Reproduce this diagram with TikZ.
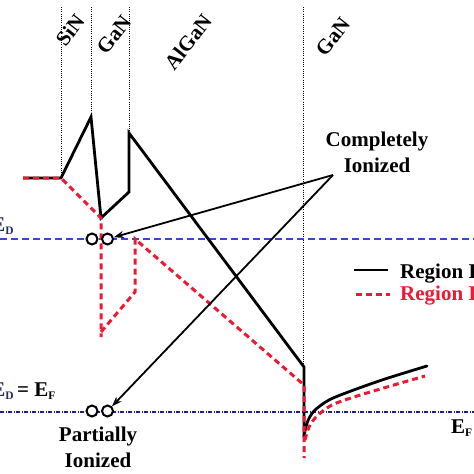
\documentclass[tikz,border=0pt]{standalone}
\usepackage{fontspec}
\setmainfont{Liberation Serif}
\usetikzlibrary{arrows.meta}
\definecolor{regred}{rgb}{0.93,0.1,0.2}
\definecolor{lvlblue}{rgb}{0.22,0.28,0.82}
\definecolor{navyline}{rgb}{0.1,0.12,0.55}
\definecolor{labblue}{rgb}{0.13,0.18,0.38}
\newcommand\lsub[1]{\raisebox{-3.5pt}{\fontsize{11.5}{11.5}\selectfont #1}}
\begin{document}
\begin{tikzpicture}[x=1pt,y=-1pt,
  lbl/.style={font=\fontsize{21}{26}\selectfont\bfseries, inner sep=0pt},
  layer/.style={lbl, rotate=52},
  bandI/.style={line width=2.8pt, black},
  bandII/.style={line width=3pt, regred, dash pattern=on 6pt off 4pt},
  iface/.style={line width=0.7pt, dash pattern=on 0.8pt off 1.4pt},
  donor/.style={circle, draw, line width=2pt, minimum size=11pt, inner sep=0pt, fill=white},
  pointer/.style={line width=1.8pt, -{Stealth[length=10pt,width=7pt]}}
]
\path[use as bounding box, clip] (0,0) rectangle (474,474);

% interfaces
\draw[iface] (61,7) -- (61,178);
\draw[iface] (91,7) -- (91,117);
\draw[iface] (129,7) -- (129,133);
\draw[iface] (303,7) -- (303,367);

% layer labels
\node[layer] (lsin) at (70,30) {SiN};
\node[layer] (lgan1) at (114,35) {GaN};
\node[layer] (lalgan) at (188,42) {AlGaN};
\node[layer] (lgan2) at (333,37) {GaN};

% levels
\draw[lvlblue, line width=1.3pt, dash pattern=on 7pt off 4pt] (0,239) -- (474,239);
\draw[navyline, line width=2pt, dash pattern=on 4pt off 1.5pt on 1pt off 1.5pt] (0,412) -- (474,412);

% Region I band
\draw[bandI] (23,178) -- (61,178) -- (91,117) -- (101,218) -- (129,192) -- (129,133) -- (304,367) -- (304,437);
\draw[bandI, line cap=round] plot[smooth] coordinates {(304,437) (307,423) (314,411) (329,400) (351,391) (385,379) (427,366)};

% Region II band
\draw[bandII] (23,178) -- (61,178) -- (101,218) -- (101,337);
\draw[bandII] (101,332) -- (135,292) -- (135,239) -- (304,385) -- (304,458);
\draw[bandII] plot[smooth] coordinates {(305,440) (309,427) (317,416) (332,405) (354,397) (387,387) (425,376)};

% donors
\node[donor] (d1) at (92,239) {};
\node[donor] (d2) at (107.5,239) {};
\node[donor] (d3) at (92,411) {};
\node[donor] (d4) at (107.5,411) {};

% labels and pointers
\node[lbl, align=center] (comp) at (377,152) {Completely\\Ionized};
\node[lbl, align=center] (part) at (98,447) {Partially\\Ionized};
\coordinate (apex) at (333,175);
\draw[pointer] (apex) -- (d2);
\draw[pointer] (apex) -- (d4);

% level labels
\node[lbl, text=labblue, anchor=base east] (ed1) at (14,231) {E\lsub{D}};
\node[lbl, text=labblue, anchor=base east] (ed2) at (14,396) {E\lsub{D}};
\node[lbl, anchor=base west] (eqf) at (17,396) {= E\lsub{F}};
\node[lbl, anchor=base west] (ef) at (451,433) {E\lsub{F}};

% legend
\coordinate (lga) at (354,270); \coordinate (lgb) at (388,270);
\coordinate (lgc) at (356,294); \coordinate (lgd) at (390,294);
\draw[bandI] (lga) -- (lgb);
\draw[bandII] (lgc) -- (lgd);
\node[lbl, anchor=base west] (reg1) at (400,278) {Region I};
\node[lbl, text=regred, anchor=base west] (reg2) at (400,300) {Region II};
\end{tikzpicture}
\end{document}
